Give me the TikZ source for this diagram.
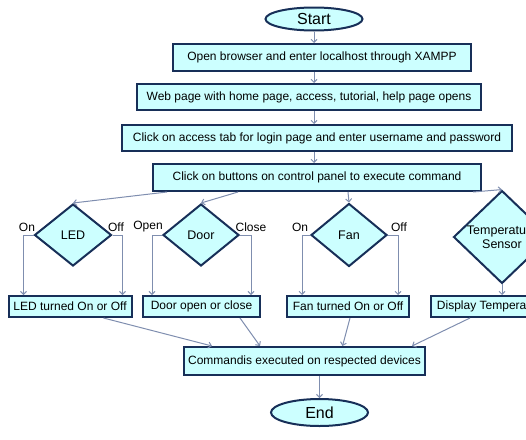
\documentclass[tikz,border=0pt]{standalone}
\usepackage{fontspec}
\setmainfont{Liberation Sans}
\usetikzlibrary{shapes.geometric, arrows.meta}

\definecolor{boxfill}{HTML}{CCFFFF}
\definecolor{boxline}{HTML}{172F58}
\definecolor{arrline}{HTML}{7F8EAF}

\tikzset{
  stepbox/.style={draw=boxline, fill=boxfill, line width=2pt, rectangle,
    inner sep=2pt, font=\fontsize{12}{14}\selectfont},
  term/.style={draw=boxline, fill=boxfill, line width=2pt, ellipse,
    minimum width=97pt, minimum height=23pt, inner sep=0pt,
    font=\fontsize{16}{18}\selectfont},
  choice/.style={draw=boxline, fill=boxfill, line width=2pt, diamond,
    inner sep=0pt, minimum width=77pt, minimum height=62pt, align=center,
    font=\fontsize{12.5}{14}\selectfont},
  arr/.style={draw=arrline, line width=1pt,
    -{Straight Barb[length=3pt,width=6pt]}},
  lbl/.style={font=\fontsize{12}{14}\selectfont, inner sep=0pt}
}

\begin{document}
\begin{tikzpicture}[x=1pt,y=-1pt]
\useasboundingbox (0,0) rectangle (526,439);
\clip (0,0) rectangle (526,439);

% main steps
\node[term] (start) at (314,19) {Start};
\node[stepbox, minimum width=298pt, minimum height=27pt] (s1) at (322,57.5) {Open browser and enter localhost through XAMPP};
\node[stepbox, minimum width=344pt, minimum height=26pt] (s2) at (309,97) {Web page with home page, access, tutorial, help page opens};
\node[stepbox, minimum width=390pt, minimum height=26pt] (s3) at (317,138) {Click on access tab for login page and enter username and password};
\node[stepbox, minimum width=328pt, minimum height=27pt] (s4) at (317,177.5) {Click on buttons on control panel to execute command};

\draw[arr] (start) -- (start |- s1.north);
\draw[arr] (s1.south -| start) -- (s2.north -| start);
\draw[arr] (s2.south -| start) -- (s3.north -| start);
\draw[arr] (s3.south -| start) -- (s4.north -| start);

% devices
\node[choice] (led) at (73,235) {LED};
\node[choice, minimum width=76pt] (door) at (201,235) {Door};
\node[choice, minimum width=76pt, minimum height=63pt] (fan) at (349,235) {Fan};
\node[choice, minimum width=97pt, minimum height=68pt] (temp) at (502,237) {Temperature\\Sensor};

\draw[arr] ([xshift=15pt]s4.south west) -- (led.north);
\draw[arr] ([xshift=86pt]s4.south west) -- (door.north);
\draw[arr] ([xshift=31pt]s4.south) -- (fan.north);
\draw[arr] ([xshift=-9pt]s4.south east) -- (temp.north);

\node[lbl] (ledon) at (27,227) {On};
\node[lbl] (ledoff) at (116,227) {Off};
\node[lbl] (dooropen) at (148,227) {Open};
\node[lbl] (doorclose) at (251,227) {Close};
\node[lbl] (fanon) at (300,227) {On};
\node[lbl] (fanoff) at (399,227) {Off};

% results
\node[stepbox, minimum width=123pt, minimum height=21pt] (ledout) at (70,306.5) {LED turned On or Off};
\node[stepbox, minimum width=117pt, minimum height=21pt] (doorout) at (201.5,306.5) {Door open or close};
\node[stepbox, minimum width=122pt, minimum height=21pt] (fanout) at (348,306.5) {Fan turned On or Off};
\node[stepbox, minimum width=123pt, minimum height=21pt] (tempout) at (492,306.5) {Display Temperature};

\draw[arr] (led.west) -| ([xshift=16pt]ledout.north west);
\draw[arr] (led.east) -| ([xshift=-10pt]ledout.north east);
\draw[arr] (door.west) -| ([xshift=10pt]doorout.north west);
\draw[arr] (door.east) -| ([xshift=-10pt]doorout.north east);
\draw[arr] (fan.west) -| ([xshift=16pt]fanout.north west);
\draw[arr] (fan.east) -| ([xshift=-12pt]fanout.north east);
\draw[arr] (temp) -- (temp |- tempout.north);

% end
\node[stepbox, minimum width=241pt, minimum height=28pt] (cmd) at (304.5,361) {Commandis executed on respected devices};
\node[term, minimum height=27pt] (stop) at (319.5,412.5) {End};

\draw[arr] ([xshift=-29pt]ledout.south east) -- ([xshift=29pt]cmd.north west);
\draw[arr] ([xshift=-21pt]doorout.south east) -- ([xshift=77pt]cmd.north west);
\draw[arr] ([xshift=2pt]fanout.south) -- ([xshift=38pt]cmd.north);
\draw[arr] ([xshift=-22pt]tempout.south) -- ([xshift=-14pt]cmd.north east);
\draw[arr] (stop |- cmd.south) -- (stop);
\end{tikzpicture}
\end{document}
